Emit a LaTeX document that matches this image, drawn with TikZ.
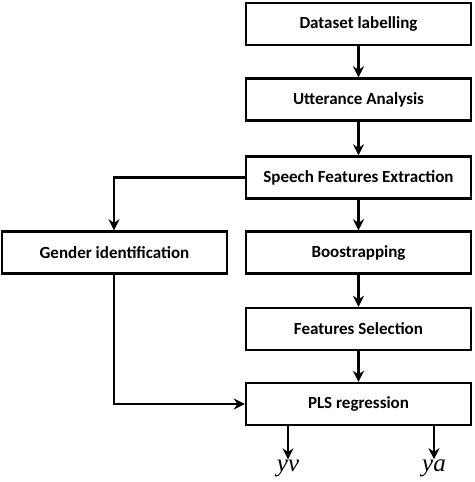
\documentclass[tikz,border=0pt]{standalone}
\usepackage{fontspec}
\setmainfont{Carlito}
\newfontfamily\serifit{Liberation Serif}
\usetikzlibrary{arrows.meta}
\begin{document}
\begin{tikzpicture}[x=1pt,y=-1pt,
  box/.style={draw, line width=2.4pt, minimum width=225pt, minimum height=42pt, inner sep=0pt, font=\fontsize{17}{19}\selectfont\bfseries},
  arr/.style={line width=2.4pt, -{Stealth[length=11pt,width=11pt]}},
  outlbl/.style={font=\serifit\itshape\fontsize{25}{27}\selectfont, inner sep=0pt}]
\useasboundingbox (0,0) rectangle (474,482);
\node[box] (dl) at (358.5,24) {Dataset labelling};
\node[box] (ua) at (358.5,99.5) {Utterance Analysis};
\node[box] (sfe) at (358.5,177.5) {Speech Features Extraction};
\node[box] (bs) at (358.5,252.5) {Boostrapping};
\node[box] (fs) at (358.5,329) {Features Selection};
\node[box] (pls) at (358.5,404) {PLS regression};
\node[box] (gi) at (114.5,252.5) {Gender identification};
\coordinate (c1) at (114,177.5);
\coordinate (c2) at (114,404);
\node[outlbl] (yv) at (288,468) {yv};
\node[outlbl] (ya) at (434,468) {ya};
\draw[arr] (dl) -- (ua);
\draw[arr] (ua) -- (sfe);
\draw[arr] (sfe) -- (bs);
\draw[arr] (bs) -- (fs);
\draw[arr] (fs) -- (pls);
\draw[arr] (sfe.west) -- (c1) -- (gi.north -| c1);
\draw[arr] (gi.south -| c2) -- (c2) -- (pls.west);
\draw[arr] (pls.south -| yv) -- (yv.north);
\draw[arr] (pls.south -| ya) -- (ya.north);
\end{tikzpicture}
\end{document}
